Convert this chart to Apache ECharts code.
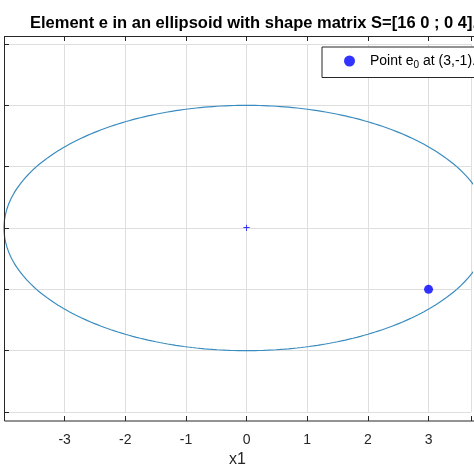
<!DOCTYPE html>
<html>
<head>
<meta charset="utf-8">
<script src="https://cdn.jsdelivr.net/npm/echarts@6/dist/echarts.min.js"></script>
<style>html,body{margin:0;padding:0;background:#fff}#chart{width:474px;height:474px}</style>
</head>
<body>
<div id="chart"></div>
<script>
// shape matrix S = [16 0 ; 0 4], centre and the point e0
var shapeMatrix = [[16, 0], [0, 4]]
var centre = [0, 0]
var pointE0 = [3, -1]
var xTicks = [-3, -2, -1, 0, 1, 2, 3]

// boundary of the ellipsoid x' S^-1 x = 1
var ellipse = []
for (var i = 0; i <= 360; i++) {
    var t = i * Math.PI / 180
    ellipse.push([centre[0] + Math.sqrt(shapeMatrix[0][0]) * Math.cos(t),
                  centre[1] + Math.sqrt(shapeMatrix[1][1]) * Math.sin(t)])
}

var font = 'Liberation Sans, Arial, sans-serif'
var chart = echarts.init(document.getElementById('chart'))
chart.setOption({
    animation: false,
    title: {
        text: 'Element e in an ellipsoid with shape matrix S=[16 0 ; 0 4].',
        left: 25, top: 10,
        textStyle: {fontFamily: font, fontSize: 16.5, fontWeight: 'bold', color: '#000'}
    },
    grid: {left: 4, right: 0, top: 44, bottom: 62},
    legend: {
        data: ['e0'],
        left: 322, top: 47,
        padding: [7, 60, 7, 22],
        borderColor: '#262626', borderWidth: 1, borderRadius: 0,
        backgroundColor: '#fff',
        itemWidth: 11, itemHeight: 11, itemGap: 10,
        formatter: function () { return '{a|Point e}{s|0}{a| at (3,-1).}' },
        textStyle: {
            padding: [0, 0, 0, 10],
            rich: {
                a: {fontFamily: font, fontSize: 14, color: '#000'},
                s: {fontFamily: font, fontSize: 10, color: '#000', verticalAlign: 'bottom', padding: [9, 0, 0, 0]}
            }
        }
    },
    graphic: [{
        type: 'rect', z: 100, silent: true,
        shape: {x: 4.5, y: 36.5, width: 480, height: 384.5},
        style: {fill: 'none', stroke: '#262626', lineWidth: 1}
    }],
    xAxis: [{
        type: 'value', min: -4, max: 3.7, interval: 1, offset: 9,
        name: 'x1', nameLocation: 'middle', nameGap: 30,
        nameTextStyle: {fontFamily: font, fontSize: 16, color: '#262626'},
        axisLine: {show: false, onZero: false},
        axisTick: {inside: true, length: 5, lineStyle: {color: '#262626'}},
        axisLabel: {fontFamily: font, fontSize: 14, color: '#262626', margin: 12,
            formatter: function (v) { return xTicks.indexOf(v) >= 0 ? String(v) : '' }},
        splitLine: {show: false}
    }, {
        type: 'value', position: 'top', min: -4, max: 3.7, interval: 1, offset: 8,
        axisLine: {show: false, onZero: false}, axisLabel: {show: false},
        axisTick: {inside: true, length: 5, lineStyle: {color: '#262626'}},
        splitLine: {show: false}
    }, {
        type: 'value', min: -4, max: 3.7, interval: 1,
        axisLine: {show: false, onZero: false}, axisLabel: {show: false}, axisTick: {show: false},
        splitLine: {show: true, lineStyle: {color: '#dedede'}}
    }],
    yAxis: {
        type: 'value', min: -3, max: 3, interval: 1,
        axisLine: {show: false, onZero: false}, axisLabel: {show: false},
        axisTick: {inside: true, length: 5, lineStyle: {color: '#262626'}},
        splitLine: {show: true, lineStyle: {color: '#dedede'}}
    },
    series: [{
        type: 'line', data: ellipse, showSymbol: false, smooth: false,
        lineStyle: {color: '#3a8cbf', width: 1.2}, silent: true
    }, {
        type: 'scatter', data: [centre], symbolSize: 0,
        label: {show: true, position: 'inside', formatter: '+', color: '#0000ff', fontSize: 13, fontFamily: font}
    }, {
        name: 'e0', type: 'scatter', data: [pointE0], symbolSize: 9,
        itemStyle: {color: '#0000ff'}
    }]
})
</script>
</body>
</html>
